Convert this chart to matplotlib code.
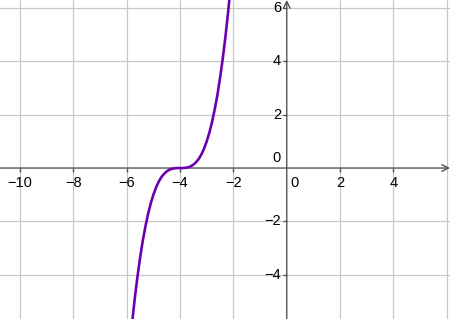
import matplotlib.pyplot as plt

# points
x_vals = [-5.78, -5.7, -5.6, -5.5, -5.4, -5.3, -5.2, -5.1, -5.0, -4.9, -4.8,
          -4.7, -4.6, -4.5, -4.4, -4.3, -4.2, -4.1, -4.0, -3.9, -3.8, -3.7,
          -3.6, -3.5, -3.4, -3.3, -3.2, -3.1, -3.0, -2.9, -2.8, -2.7, -2.6,
          -2.5, -2.4, -2.3, -2.2, -2.15]
y_vals = [-5.64, -4.91, -4.10, -3.38, -2.74, -2.20, -1.73, -1.33, -1.0, -0.73,
          -0.51, -0.34, -0.22, -0.125, -0.064, -0.027, -0.008, -0.001, 0.0,
          0.001, 0.008, 0.027, 0.064, 0.125, 0.22, 0.34, 0.51, 0.73, 1.0,
          1.33, 1.73, 2.20, 2.74, 3.38, 4.10, 4.91, 5.83, 6.33]

x_ticks = [-10, -8, -6, -4, -2, 2, 4]
y_ticks = [-4, -2, 2, 4, 6]
x_grid = [-10, -8, -6, -4, -2, 2, 4, 6]
y_grid = [-4, -2, 2, 4, 6]

xmin, xmax = -10.75, 6.12
ymin, ymax = -5.66, 6.3

plt.rcParams['font.family'] = ['Liberation Sans', 'DejaVu Sans']

fig = plt.figure(figsize=(4.5, 3.19), dpi=100)
ax = fig.add_axes([0, 0, 1, 1])
ax.set_xlim(xmin, xmax)
ax.set_ylim(ymin, ymax)
ax.axis('off')

grid_col = '#c8c8c8'
axis_col = '#555555'
for gx in x_grid:
    ax.axvline(gx, color=grid_col, lw=0.9, zorder=0)
for gy in y_grid:
    ax.axhline(gy, color=grid_col, lw=0.9, zorder=0)

# axes with open arrowheads
ax.annotate('', xy=(xmax, 0), xytext=(xmin, 0),
            arrowprops=dict(arrowstyle='->', color=axis_col, lw=1, shrinkA=0, shrinkB=0,
                            mutation_scale=12))
ax.annotate('', xy=(0, ymax), xytext=(0, ymin),
            arrowprops=dict(arrowstyle='->', color=axis_col, lw=1, shrinkA=0, shrinkB=0,
                            mutation_scale=12))

# small tick marks
ax.plot(x_ticks, [0] * len(x_ticks), ls='none', marker=3, ms=3, mew=1, color=axis_col)
ax.plot([0] * len(y_ticks), y_ticks, ls='none', marker=0, ms=3, mew=1, color=axis_col)

fs = 10.5
for tx in x_ticks:
    ax.text(tx, -0.3, '\u2212%d' % -tx if tx < 0 else str(tx),
            ha='center', va='top', fontsize=fs)
ax.text(0.15, -0.3, '0', ha='left', va='top', fontsize=fs)
for ty in y_ticks:
    ax.text(-0.22, ty, '\u2212%d' % -ty if ty < 0 else str(ty),
            ha='right', va='center', fontsize=fs)
ax.text(-0.22, 0.1, '0', ha='right', va='bottom', fontsize=fs)

ax.plot(x_vals, y_vals, color='#6a00b0', lw=1.9, solid_capstyle='round', zorder=5)

fig.savefig('out.png', dpi=100)
